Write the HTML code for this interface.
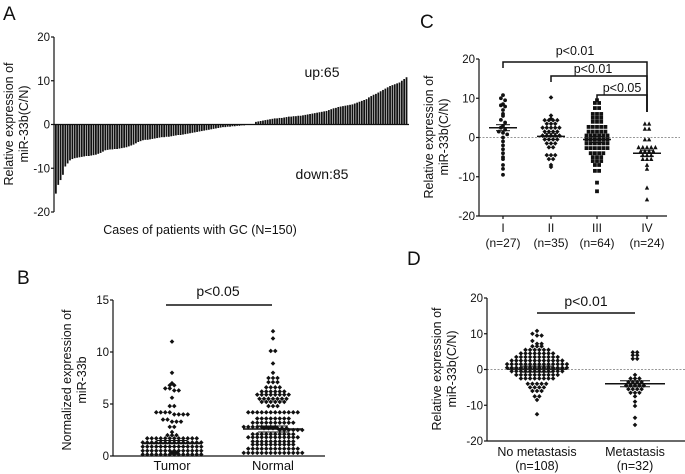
<!DOCTYPE html>
<html><head><meta charset="utf-8"><style>
html,body{margin:0;padding:0;background:#fff;}
svg{display:block;font-family:"Liberation Sans",Arial,sans-serif;}
</style></head><body>
<svg id="fig" width="685" height="474" viewBox="0 0 685 474" xmlns="http://www.w3.org/2000/svg"></svg>
<script>
// ---- Panel A data ----
const barsNeg = [-15.8,-13.8,-12.7,-11.5,-9.6,-8.9,-8.2,-7.9,-7.7,-7.6,-7.5,-7.4,-7.3,-7.2,-7.2,-7.1,-7.0,-6.9,-6.7,-6.5,-6.2,-5.9,-5.8,-5.7,-5.7,-5.6,-5.6,-5.5,-5.4,-5.3,-5.2,-5.0,-4.8,-4.6,-4.3,-4.0,-3.8,-3.6,-3.5,-3.5,-3.4,-3.3,-3.2,-3.1,-3.0,-2.9,-2.9,-2.8,-2.8,-2.7,-2.6,-2.5,-2.4,-2.4,-2.3,-2.2,-2.1,-2.0,-1.9,-1.8,-1.7,-1.6,-1.5,-1.4,-1.3,-1.2,-1.1,-1.0,-0.9,-0.8,-0.7,-0.6,-0.6,-0.5,-0.5,-0.4,-0.4,-0.3,-0.3,-0.2,-0.2,-0.1,-0.1,-0.1,-0.05];
const barsPos = [0.6,0.7,0.8,0.9,1.0,1.1,1.2,1.3,1.4,1.4,1.5,1.5,1.6,1.7,1.8,1.8,1.9,1.9,2.0,2.0,2.1,2.2,2.3,2.4,2.5,2.6,2.7,2.8,2.9,3.0,3.1,3.3,3.5,3.7,3.8,4.0,4.1,4.2,4.3,4.4,4.5,4.6,4.8,5.0,5.2,5.4,5.6,5.8,6.2,6.5,6.8,7.0,7.3,7.6,7.9,8.2,8.5,8.8,9.0,9.2,9.4,9.6,10.0,10.4,10.8];
const ticksA = [20,10,0,-10,-20];
// ---- Panel B data (value, count) ----
const tumorVals =   [11,8,7,6.8,6.5,6.3,5.6,4.8,4.2,4.0,3.5,3.3,2.8,2.3,2.0,1.7,1.3,0.9,0.5,0.15];
const tumorCounts = [1,1,1,2,2,2,1,2,4,4,2,3,2,1,3,12,14,14,14,16];
const normalVals =   [12,11.3,10.1,8.9,8.0,7.5,7.1,6.6,6.2,5.9,5.5,5.2,4.8,4.2,3.6,3.2,2.8,2.5,2.1,1.8,1.4,1.1,0.7,0.3];
const normalCounts = [1,1,2,1,1,3,3,4,6,8,7,6,3,12,8,10,8,12,10,12,10,10,12,14];
const ticksB = [0,5,10,15];
// ---- Panel C data ----
const stageI   = [10.8,10,9.5,8.5,8.2,7.9,7,6,5.5,4.5,3.8,3,2.5,2,1.5,1.2,0.8,0,-1,-2,-3,-4,-5,-5.5,-7,-8,-9.5];
const stageIIv = [10.2,5.6,4.8,4.4,3.5,2.5,1.5,0.5,-0.5,-1.5,-2.5,-4.5,-5.5,-7,-7.5];
const stageIIc = [1,1,1,4,3,5,4,5,4,3,2,3,2,1,1];
const stageIIIv = [9.5,8.8,7.5,6,5,4,2.7,1.5,0.5,-0.5,-1.5,-2.7,-4,-5,-6,-7,-8.5,-11.5,-13.7];
const stageIIIc = [1,2,2,3,3,3,5,5,6,6,6,6,4,3,3,2,2,1,1];
const stageIVv = [3.5,2.2,-0.5,-2.5,-3.5,-4.5,-5.5,-7,-8,-12.8,-15.8];
const stageIVc = [2,2,2,5,4,3,3,1,1,1,1];
const stageMeans = [2.5,0.3,-0.5,-4.0];
const stageLabels = ["I","II","III","IV"];
const stageN = ["(n=27)","(n=35)","(n=64)","(n=24)"];
const ticksC = [20,10,0,-10,-20];
// ---- Panel D data ----
const noMetV = [10.8,10,9.5,8,7.2,6.5,5.5,4.5,3.5,2.5,1.5,0.5,-0.5,-1.5,-2.5,-4,-5,-6,-7.5,-8.5,-12.5];
const noMetC = [1,1,2,1,2,3,6,8,10,12,14,14,12,10,8,5,4,3,2,1,1];
const metV = [4.8,4,3,-1.5,-2.5,-3.5,-4.5,-5.5,-6.5,-7.5,-9,-10.2,-13.5,-15.5];
const metC = [2,2,2,1,3,4,5,4,3,1,1,1,1,1];
const metMeans = [0.1,-4.0];
const ticksD = [20,10,0,-10,-20];

const svg = document.getElementById('fig');
const NS = 'http://www.w3.org/2000/svg';
function mk(tag, attrs, parent, name, txt){
  const e = document.createElementNS(NS, tag);
  for (const k in attrs) e.setAttribute(k, attrs[k]);
  
  
  if (txt !== undefined) e.textContent = txt;
  (parent || svg).appendChild(e);
  return e;
}
function expand(v, c){ const o=[]; v.forEach((x,i)=>{for(let k=0;k<c[i];k++) o.push(x);}); return o; }
function lin(d0,d1,r0,r1){ return v => r0 + (v-d0)/(d1-d0)*(r1-r0); }
function yAxis(g, x, y, ticks, ymin, ymax){
  mk('line',{x1:x,y1:y(ymax),x2:x,y2:y(ymin),stroke:'#111','stroke-width':1.2},g,'y-axis-line');
  ticks.forEach(t=>{
    mk('line',{x1:x-3,y1:y(t),x2:x,y2:y(t),stroke:'#111','stroke-width':1.2},g,'y-tick');
    mk('text',{x:x-4,y:y(t)+4,'font-size':11.5,'text-anchor':'end',fill:'#111'},g,'y-tick-label',String(t));
  });
}
function yTitle(g, cx, cy, l1, l2){
  const t = mk('text',{transform:`translate(${cx},${cy}) rotate(-90)`,'font-size':12.5,'text-anchor':'middle',fill:'#111'},g,'y-axis-title');
  const a = document.createElementNS(NS,'tspan'); a.setAttribute('x',0); a.setAttribute('y',-3); a.textContent=l1; t.appendChild(a);
  const b = document.createElementNS(NS,'tspan'); b.setAttribute('x',0); b.setAttribute('y',12); b.textContent=l2; t.appendChild(b);
}
function marker(g, shape, x, y, r){
  if (shape==='circle') mk('circle',{cx:x,cy:y,r:r,fill:'#111'},g,'data-point');
  else if (shape==='diamond') mk('polygon',{points:`${x},${y-r-0.4} ${x+r+0.4},${y} ${x},${y+r+0.4} ${x-r-0.4},${y}`,fill:'#111'},g,'data-point');
  else if (shape==='square') mk('rect',{x:x-r,y:y-r,width:2*r,height:2*r,fill:'#111'},g,'data-point');
  else mk('polygon',{points:`${x},${y-r-0.5} ${x+r+0.3},${y+r} ${x-r-0.3},${y+r}`,fill:'#111'},g,'data-point');
}
function swarm(g, vals, cx, y, shape, sp, rowPx, maxN){
  const rows = {};
  vals.forEach(v=>{ const k = Math.round(y(v)/rowPx); (rows[k]=rows[k]||[]).push(v); });
  for (const k in rows){
    const arr = rows[k], n = arr.length;
    arr.forEach((v,i)=>{
      const layer = Math.floor(i/maxN), rem = n - layer*maxN;
      const m = Math.min(maxN, rem), j = i % maxN;
      const off = (j - (m-1)/2)*sp + (layer%2 ? sp/2 : 0);
      marker(g, shape, cx+off, y(v) + (layer ? (layer%2?-1.8:1.8) : 0), 1.9);
    });
  }
}
function meanBar(g, cx, y, m, half){
  mk('line',{x1:cx-half,y1:y(m),x2:cx+half,y2:y(m),stroke:'#111','stroke-width':1.5},g,'mean-line');
  mk('line',{x1:cx-half*0.5,y1:y(m)-3,x2:cx+half*0.5,y2:y(m)-3,stroke:'#111','stroke-width':1},g,'sem-upper');
  mk('line',{x1:cx-half*0.5,y1:y(m)+3,x2:cx+half*0.5,y2:y(m)+3,stroke:'#111','stroke-width':1},g,'sem-lower');
}

// ================= Panel A =================
(function(){
  const g = mk('g',{},svg,'panel-a');
  mk('text',{x:3,y:20,'font-size':19,fill:'#111'},g,'panel-label-a','A');
  const y = lin(-20,20,212,37);
  const vals = barsNeg.concat(barsPos);
  const x0 = 55, x1 = 408, w = (x1-x0)/vals.length;
  vals.forEach((v,i)=>{
    const yy = Math.min(y(0),y(v)), h = Math.abs(y(v)-y(0));
    mk('rect',{x:x0+i*w,y:yy,width:w*0.75,height:h,fill:'#111'},g,'bar');
  });
  yAxis(g, 54, y, ticksA, -20, 20);
  mk('line',{x1:54,y1:y(0),x2:409,y2:y(0),stroke:'#111','stroke-width':1.2},g,'x-axis-line');
  yTitle(g, 16, 124, 'Relative expression of', 'miR-33b(C/N)');
  mk('text',{x:200,y:234,'font-size':12.5,'text-anchor':'middle',fill:'#111'},g,'x-axis-title','Cases of patients with GC (N=150)');
  mk('text',{x:322,y:77,'font-size':14,'text-anchor':'middle',fill:'#111'},g,'up-count-label','up:65');
  mk('text',{x:322,y:179,'font-size':14,'text-anchor':'middle',fill:'#111'},g,'down-count-label','down:85');
})();

// ================= Panel B =================
(function(){
  const g = mk('g',{},svg,'panel-b');
  mk('text',{x:17,y:284,'font-size':19,fill:'#111'},g,'panel-label-b','B');
  const y = lin(0,15,456,300);
  yAxis(g, 113, y, ticksB, 0, 15);
  mk('line',{x1:113,y1:456,x2:325,y2:456,stroke:'#111','stroke-width':1.2},g,'x-axis-line');
  swarm(g, expand(tumorVals,tumorCounts), 172, y, 'diamond', 4.5, 3.6, 14);
  swarm(g, expand(normalVals,normalCounts), 273, y, 'diamond', 4.5, 3.4, 14);
  meanBar(g, 172, y, 1.2, 30);
  meanBar(g, 273, y, 2.6, 30);
  mk('text',{x:172,y:470,'font-size':13,'text-anchor':'middle',fill:'#111'},g,'x-label-tumor','Tumor');
  mk('text',{x:273,y:470,'font-size':13,'text-anchor':'middle',fill:'#111'},g,'x-label-normal','Normal');
  mk('line',{x1:166,y1:305,x2:272,y2:305,stroke:'#111','stroke-width':1.5},g,'significance-line');
  mk('text',{x:218,y:296,'font-size':14,'text-anchor':'middle',fill:'#111'},g,'significance-label','p<0.05');
  yTitle(g, 74, 380, 'Normalized expression of', 'miR-33b');
})();

// ================= Panel C =================
(function(){
  const g = mk('g',{},svg,'panel-c');
  mk('text',{x:420,y:28,'font-size':19,fill:'#111'},g,'panel-label-c','C');
  const y = lin(-20,20,216,59);
  const cxs = [503,551,597,647];
  mk('line',{x1:479,y1:y(0),x2:680,y2:y(0),stroke:'#777','stroke-width':0.8,'stroke-dasharray':'2,1.5'},g,'zero-reference-line');
  yAxis(g, 479, y, ticksC, -20, 20);
  mk('line',{x1:479,y1:216,x2:667,y2:216,stroke:'#111','stroke-width':1.2},g,'x-axis-line');
  const groups = [stageI, expand(stageIIv,stageIIc), expand(stageIIIv,stageIIIc), expand(stageIVv,stageIVc)];
  const shapes = ['circle','diamond','square','triangle'];
  groups.forEach((vals,i)=>{
    swarm(g, vals, cxs[i], y, shapes[i], 4.2, 3.8, 8);
    meanBar(g, cxs[i], y, stageMeans[i], 14);
    mk('line',{x1:cxs[i],y1:216,x2:cxs[i],y2:219,stroke:'#111','stroke-width':1.2},g,'x-tick');
    mk('text',{x:cxs[i],y:232,'font-size':12,'text-anchor':'middle',fill:'#111'},g,'x-label-stage',stageLabels[i]);
    mk('text',{x:cxs[i],y:247,'font-size':12,'text-anchor':'middle',fill:'#111'},g,'x-label-n',stageN[i]);
  });
  const br = [[0,62,'p<0.01',575,55],[1,76,'p<0.01',593,73],[2,95,'p<0.05',622,92]];
  br.forEach(b=>{
    const xs = cxs[b[0]];
    mk('polyline',{points:`${xs},${b[1]+6} ${xs},${b[1]} ${cxs[3]},${b[1]} ${cxs[3]},112`,fill:'none',stroke:'#111','stroke-width':1.5},g,'significance-bracket');
    mk('text',{x:b[3],y:b[4],'font-size':12.5,'text-anchor':'middle',fill:'#111'},g,'significance-label',b[2]);
  });
  yTitle(g, 436, 137, 'Relative expression of', 'miR-33b(C/N)');
})();

// ================= Panel D =================
(function(){
  const g = mk('g',{},svg,'panel-d');
  mk('text',{x:407,y:265,'font-size':19,fill:'#111'},g,'panel-label-d','D');
  const y = lin(-20,20,441,298);
  const cxs = [537,635];
  mk('line',{x1:487,y1:y(0),x2:685,y2:y(0),stroke:'#777','stroke-width':0.8,'stroke-dasharray':'2,1.5'},g,'zero-reference-line');
  yAxis(g, 487, y, ticksD, -20, 20);
  mk('line',{x1:487,y1:441,x2:685,y2:441,stroke:'#111','stroke-width':1.2},g,'x-axis-line');
  swarm(g, expand(noMetV,noMetC), cxs[0], y, 'diamond', 4.6, 3.6, 14);
  swarm(g, expand(metV,metC), cxs[1], y, 'diamond', 4.4, 3.6, 10);
  meanBar(g, cxs[0], y, metMeans[0], 30);
  meanBar(g, cxs[1], y, metMeans[1], 30);
  mk('text',{x:537,y:456,'font-size':12.5,'text-anchor':'middle',fill:'#111'},g,'x-label-no-metastasis','No metastasis');
  mk('text',{x:537,y:470,'font-size':12.5,'text-anchor':'middle',fill:'#111'},g,'x-label-n','(n=108)');
  mk('text',{x:635,y:456,'font-size':12.5,'text-anchor':'middle',fill:'#111'},g,'x-label-metastasis','Metastasis');
  mk('text',{x:635,y:470,'font-size':12.5,'text-anchor':'middle',fill:'#111'},g,'x-label-n','(n=32)');
  mk('line',{x1:537,y1:313,x2:635,y2:313,stroke:'#111','stroke-width':1.5},g,'significance-line');
  mk('text',{x:586,y:306,'font-size':14,'text-anchor':'middle',fill:'#111'},g,'significance-label','p<0.01');
  yTitle(g, 444, 369, 'Relative expression of', 'miR-33b(C/N)');
})();
</script>
</body></html>
